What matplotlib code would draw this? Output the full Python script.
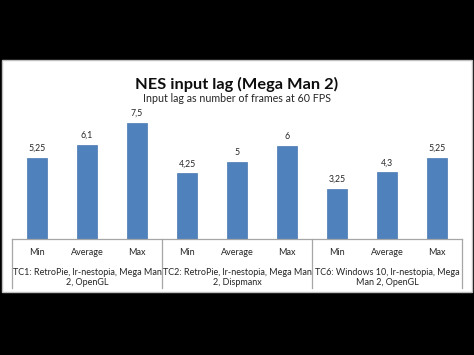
import matplotlib
matplotlib.use("Agg")
import matplotlib.pyplot as plt
from matplotlib.patches import Rectangle

# data
categorias = ["Min", "Average", "Max"]
grupos = [
    "TC1: RetroPie, lr-nestopia, Mega Man\n2, OpenGL",
    "TC2: RetroPie, lr-nestopia, Mega Man\n2, Dispmanx",
    "TC6: Windows 10, lr-nestopia, Mega\nMan 2, OpenGL",
]
valores_tc1 = [5.25, 6.1, 7.5]
valores_tc2 = [4.25, 5, 6]
valores_tc6 = [3.25, 4.3, 5.25]
rotulos_tc1 = ["5,25", "6,1", "7,5"]
rotulos_tc2 = ["4,25", "5", "6"]
rotulos_tc6 = ["3,25", "4,3", "5,25"]

plt.rcParams["font.family"] = ["Lato", "DejaVu Sans"]

W, H = 474, 355
fig = plt.figure(figsize=(W / 100, H / 100), dpi=100, facecolor="black")

# white chart area with light border
fig.patches.append(Rectangle((2 / W, (H - 292) / H), 470 / W, 232 / H,
                             transform=fig.transFigure, facecolor="white",
                             edgecolor="#bfbfbf", linewidth=1.0, zorder=-5))

ax = fig.add_axes([12 / W, (H - 239) / H, 450 / W, 123.8 / H])
ax.set_facecolor("none")
ax.set_zorder(2)

valores = valores_tc1 + valores_tc2 + valores_tc6
rotulos = rotulos_tc1 + rotulos_tc2 + rotulos_tc6
posicoes = list(range(len(valores)))

barras = ax.bar(posicoes, valores, width=0.4, color="#4f81bd",
                edgecolor="#4a7ab3", linewidth=0.5, zorder=2)
for barra, rotulo in zip(barras, rotulos):
    ax.annotate(rotulo, (barra.get_x() + barra.get_width() / 2, barra.get_height()),
                xytext=(0, 3.5), textcoords="offset points", ha="center",
                va="bottom", fontsize=6.3, color="#262626")

ax.set_xlim(-0.5, 8.5)
ax.set_ylim(0, 8)
for lado in ["top", "right", "left"]:
    ax.spines[lado].set_visible(False)
ax.spines["bottom"].set_color("#a6a6a6")
ax.spines["bottom"].set_linewidth(0.9)
ax.set_xticks([])
ax.set_yticks([])

trans = ax.get_xaxis_transform()
# group separator lines
for x in [-0.5, 2.5, 5.5, 8.5]:
    ax.plot([x, x], [0, -49 / 123.8], transform=trans, color="#a6a6a6",
            linewidth=0.9, clip_on=False)

# category labels
for i, pos in enumerate(posicoes):
    ax.text(pos, -13.7 / 123.8, categorias[i % 3], transform=trans,
            ha="center", va="center", fontsize=6.5, color="#262626")

# group labels
for g, nome in enumerate(grupos):
    ax.text(3 * g + 1, -38.5 / 123.8, nome, transform=trans, ha="center",
            va="center", fontsize=6.45, color="#262626", linespacing=1.25)

fig.text(237 / W, (H - 89.5) / H, "NES input lag (Mega Man 2)", ha="center",
         va="baseline", fontsize=11.8, fontweight="bold", color="#0d0d0d")
fig.text(237 / W, (H - 102) / H, "Input lag as number of frames at 60 FPS",
         ha="center", va="baseline", fontsize=7.7, color="#262626")

fig.savefig("out.png", dpi=100, facecolor="black")
